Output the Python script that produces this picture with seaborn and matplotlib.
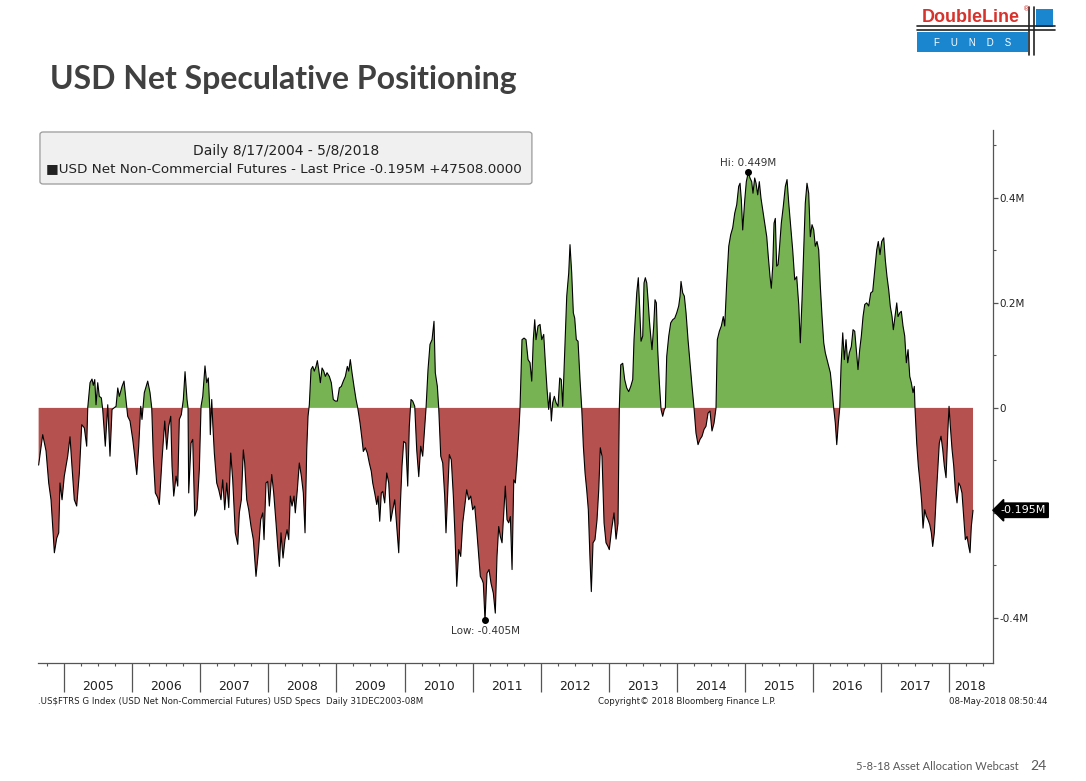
import numpy as np
import pandas as pd
import matplotlib
matplotlib.use("Agg")
import matplotlib.pyplot as plt
import seaborn as sns
from matplotlib.patches import Rectangle, FancyBboxPatch
from matplotlib.lines import Line2D

# weekly USD net non-commercial futures (decimal year, millions of contracts)
dates = [
    2004.627, 2004.687, 2004.736, 2004.775, 2004.809, 2004.858, 2004.893, 2004.922, 2004.941, 2004.971,
    2005.004, 2005.054, 2005.088, 2005.117, 2005.151, 2005.186, 2005.225, 2005.260, 2005.298, 2005.333,
    2005.348, 2005.382, 2005.411, 2005.430, 2005.451, 2005.470, 2005.495, 2005.518, 2005.548, 2005.568,
    2005.606, 2005.642, 2005.675, 2005.705, 2005.764, 2005.789, 2005.812, 2005.852, 2005.881, 2005.910,
    2005.935, 2005.969, 2006.009, 2006.038, 2006.068, 2006.097, 2006.126, 2006.145, 2006.179, 2006.229,
    2006.263, 2006.288, 2006.311, 2006.341, 2006.376, 2006.399, 2006.439, 2006.479, 2006.508, 2006.537,
    2006.567, 2006.586, 2006.611, 2006.645, 2006.670, 2006.693, 2006.722, 2006.752, 2006.777, 2006.806,
    2006.821, 2006.831, 2006.865, 2006.890, 2006.919, 2006.953, 2006.987, 2007.012, 2007.037, 2007.070,
    2007.095, 2007.119, 2007.140, 2007.148, 2007.169, 2007.184, 2007.207, 2007.242, 2007.272, 2007.305,
    2007.330, 2007.360, 2007.389, 2007.419, 2007.448, 2007.477, 2007.515, 2007.551, 2007.574, 2007.604,
    2007.633, 2007.653, 2007.683, 2007.712, 2007.746, 2007.780, 2007.819, 2007.853, 2007.888, 2007.918,
    2007.937, 2007.966, 2007.991, 2008.015, 2008.050, 2008.079, 2008.113, 2008.138, 2008.162, 2008.186,
    2008.216, 2008.245, 2008.275, 2008.300, 2008.323, 2008.348, 2008.377, 2008.396, 2008.426, 2008.455,
    2008.485, 2008.514, 2008.539, 2008.564, 2008.583, 2008.602, 2008.627, 2008.652, 2008.675, 2008.700,
    2008.720, 2008.740, 2008.764, 2008.789, 2008.814, 2008.837, 2008.862, 2008.896, 2008.925, 2008.954,
    2008.984, 2009.013, 2009.043, 2009.072, 2009.101, 2009.131, 2009.160, 2009.181, 2009.204, 2009.229,
    2009.258, 2009.288, 2009.313, 2009.347, 2009.376, 2009.395, 2009.424, 2009.454, 2009.483, 2009.512,
    2009.533, 2009.562, 2009.592, 2009.611, 2009.636, 2009.659, 2009.680, 2009.709, 2009.739, 2009.768,
    2009.797, 2009.827, 2009.856, 2009.885, 2009.915, 2009.938, 2009.963, 2009.988, 2010.018, 2010.047,
    2010.070, 2010.095, 2010.120, 2010.150, 2010.179, 2010.209, 2010.238, 2010.267, 2010.291, 2010.316,
    2010.345, 2010.374, 2010.404, 2010.433, 2010.452, 2010.482, 2010.502, 2010.532, 2010.561, 2010.590,
    2010.609, 2010.634, 2010.658, 2010.687, 2010.717, 2010.742, 2010.767, 2010.796, 2010.825, 2010.855,
    2010.884, 2010.913, 2010.943, 2010.972, 2011.001, 2011.031, 2011.060, 2011.090, 2011.113, 2011.138,
    2011.157, 2011.182, 2011.211, 2011.241, 2011.270, 2011.304, 2011.333, 2011.358, 2011.383, 2011.407,
    2011.432, 2011.457, 2011.480, 2011.505, 2011.530, 2011.554, 2011.579, 2011.604, 2011.627, 2011.652,
    2011.677, 2011.696, 2011.725, 2011.755, 2011.784, 2011.814, 2011.843, 2011.868, 2011.891, 2011.912,
    2011.931, 2011.960, 2011.990, 2012.015, 2012.044, 2012.068, 2012.093, 2012.117, 2012.137, 2012.156,
    2012.176, 2012.200, 2012.225, 2012.254, 2012.279, 2012.302, 2012.323, 2012.352, 2012.382, 2012.411,
    2012.430, 2012.455, 2012.479, 2012.499, 2012.523, 2012.548, 2012.577, 2012.602, 2012.626, 2012.651,
    2012.675, 2012.699, 2012.724, 2012.743, 2012.768, 2012.797, 2012.827, 2012.852, 2012.875, 2012.900,
    2012.930, 2012.959, 2012.988, 2013.007, 2013.040, 2013.076, 2013.106, 2013.135, 2013.154, 2013.175,
    2013.204, 2013.233, 2013.263, 2013.292, 2013.322, 2013.351, 2013.370, 2013.389, 2013.410, 2013.433,
    2013.454, 2013.473, 2013.498, 2013.517, 2013.536, 2013.557, 2013.576, 2013.595, 2013.615, 2013.634,
    2013.659, 2013.678, 2013.698, 2013.718, 2013.742, 2013.767, 2013.791, 2013.815, 2013.830, 2013.850,
    2013.880, 2013.909, 2013.938, 2013.968, 2013.997, 2014.026, 2014.046, 2014.060, 2014.085, 2014.109,
    2014.134, 2014.163, 2014.192, 2014.222, 2014.251, 2014.280, 2014.310, 2014.339, 2014.369, 2014.398,
    2014.427, 2014.457, 2014.486, 2014.515, 2014.545, 2014.574, 2014.593, 2014.623, 2014.652, 2014.681,
    2014.702, 2014.731, 2014.761, 2014.790, 2014.819, 2014.849, 2014.878, 2014.907, 2014.927, 2014.946,
    2014.966, 2014.996, 2015.019, 2015.048, 2015.073, 2015.098, 2015.117, 2015.142, 2015.162, 2015.186,
    2015.210, 2015.235, 2015.260, 2015.289, 2015.319, 2015.342, 2015.367, 2015.386, 2015.407, 2015.426,
    2015.445, 2015.465, 2015.485, 2015.504, 2015.533, 2015.562, 2015.592, 2015.617, 2015.642, 2015.671,
    2015.700, 2015.730, 2015.759, 2015.789, 2015.812, 2015.837, 2015.862, 2015.885, 2015.910, 2015.935,
    2015.959, 2015.984, 2016.009, 2016.032, 2016.057, 2016.082, 2016.106, 2016.131, 2016.156, 2016.179,
    2016.204, 2016.229, 2016.253, 2016.278, 2016.302, 2016.326, 2016.347, 2016.370, 2016.391, 2016.410,
    2016.435, 2016.458, 2016.483, 2016.508, 2016.532, 2016.561, 2016.586, 2016.611, 2016.634, 2016.659,
    2016.684, 2016.708, 2016.733, 2016.758, 2016.787, 2016.816, 2016.846, 2016.875, 2016.905, 2016.934,
    2016.957, 2016.982, 2017.007, 2017.037, 2017.060, 2017.085, 2017.110, 2017.134, 2017.159, 2017.178,
    2017.203, 2017.228, 2017.247, 2017.272, 2017.295, 2017.320, 2017.345, 2017.369, 2017.394, 2017.419,
    2017.442, 2017.467, 2017.486, 2017.496, 2017.521, 2017.545, 2017.570, 2017.595, 2017.614, 2017.639,
    2017.662, 2017.687, 2017.712, 2017.736, 2017.756, 2017.780, 2017.805, 2017.830, 2017.853, 2017.878,
    2017.903, 2017.927, 2017.952, 2017.977, 2017.996, 2018.015, 2018.040, 2018.065, 2018.088, 2018.113,
    2018.138, 2018.162, 2018.186, 2018.211, 2018.235, 2018.260, 2018.285, 2018.304, 2018.323, 2018.348,
]
net_spec = [
    -0.109, -0.051, -0.082, -0.143, -0.175, -0.276, -0.248, -0.238, -0.143, -0.175,
    -0.130, -0.092, -0.055, -0.112, -0.175, -0.187, -0.124, -0.032, -0.038, -0.073,
    0.000, 0.048, 0.055, 0.043, 0.054, 0.006, 0.048, 0.022, 0.019, -0.003,
    -0.073, 0.006, -0.092, -0.003, 0.003, 0.038, 0.022, 0.041, 0.051, 0.016,
    -0.016, -0.025, -0.060, -0.092, -0.127, -0.073, 0.003, -0.022, 0.029, 0.051,
    0.029, 0.000, -0.092, -0.162, -0.171, -0.184, -0.098, -0.025, -0.079, -0.035,
    -0.016, -0.111, -0.168, -0.130, -0.149, -0.022, -0.013, 0.016, 0.069, 0.016,
    0.000, -0.162, -0.067, -0.060, -0.206, -0.194, -0.117, 0.003, 0.022, 0.080,
    0.048, 0.057, 0.000, -0.051, 0.016, -0.029, -0.086, -0.143, -0.156, -0.175,
    -0.137, -0.194, -0.143, -0.190, -0.086, -0.137, -0.238, -0.260, -0.200, -0.175,
    -0.080, -0.105, -0.175, -0.194, -0.226, -0.251, -0.321, -0.276, -0.213, -0.200,
    -0.251, -0.143, -0.140, -0.187, -0.127, -0.162, -0.219, -0.264, -0.302, -0.238,
    -0.286, -0.251, -0.232, -0.251, -0.168, -0.187, -0.168, -0.200, -0.156, -0.105,
    -0.130, -0.162, -0.238, -0.080, -0.016, 0.006, 0.073, 0.079, 0.070, 0.079,
    0.090, 0.073, 0.048, 0.076, 0.070, 0.060, 0.067, 0.060, 0.048, 0.016,
    0.013, 0.013, 0.038, 0.041, 0.051, 0.060, 0.079, 0.070, 0.092, 0.067,
    0.041, 0.016, 0.000, -0.029, -0.060, -0.083, -0.076, -0.086, -0.105, -0.121,
    -0.143, -0.162, -0.184, -0.168, -0.216, -0.162, -0.159, -0.181, -0.124, -0.143,
    -0.216, -0.194, -0.175, -0.226, -0.276, -0.187, -0.111, -0.064, -0.067, -0.149,
    -0.035, 0.016, 0.013, 0.003, -0.080, -0.131, -0.073, -0.092, -0.048, 0.000,
    0.073, 0.121, 0.130, 0.165, 0.067, 0.041, 0.000, -0.092, -0.105, -0.168,
    -0.238, -0.162, -0.089, -0.099, -0.168, -0.245, -0.340, -0.270, -0.283, -0.219,
    -0.187, -0.156, -0.175, -0.168, -0.194, -0.187, -0.232, -0.283, -0.321, -0.327,
    -0.334, -0.405, -0.315, -0.308, -0.334, -0.353, -0.391, -0.283, -0.226, -0.245,
    -0.257, -0.200, -0.149, -0.213, -0.219, -0.207, -0.308, -0.137, -0.143, -0.099,
    -0.048, 0.000, 0.130, 0.133, 0.130, 0.092, 0.086, 0.051, 0.130, 0.168,
    0.130, 0.156, 0.159, 0.130, 0.140, 0.086, 0.035, -0.003, 0.029, -0.025,
    0.010, 0.022, 0.010, 0.003, 0.057, 0.054, 0.003, 0.105, 0.213, 0.257,
    0.311, 0.257, 0.181, 0.171, 0.130, 0.127, 0.054, 0.000, -0.073, -0.124,
    -0.156, -0.194, -0.289, -0.350, -0.257, -0.251, -0.213, -0.156, -0.076, -0.092,
    -0.219, -0.257, -0.264, -0.270, -0.232, -0.200, -0.250, -0.220, 0.000, 0.082,
    0.085, 0.054, 0.038, 0.031, 0.041, 0.054, 0.130, 0.174, 0.219, 0.248,
    0.187, 0.127, 0.137, 0.238, 0.248, 0.238, 0.206, 0.168, 0.137, 0.111,
    0.156, 0.206, 0.200, 0.111, 0.048, -0.003, -0.016, -0.003, 0.000, 0.098,
    0.137, 0.162, 0.168, 0.171, 0.181, 0.194, 0.213, 0.241, 0.219, 0.213,
    0.181, 0.130, 0.086, 0.041, 0.000, -0.048, -0.070, -0.060, -0.054, -0.041,
    -0.035, -0.010, -0.006, -0.044, -0.029, 0.000, 0.130, 0.146, 0.156, 0.174,
    0.156, 0.238, 0.308, 0.330, 0.343, 0.371, 0.387, 0.422, 0.428, 0.396,
    0.339, 0.396, 0.431, 0.449, 0.438, 0.431, 0.409, 0.438, 0.428, 0.406,
    0.431, 0.399, 0.377, 0.352, 0.326, 0.288, 0.250, 0.228, 0.270, 0.352,
    0.361, 0.270, 0.273, 0.301, 0.352, 0.384, 0.422, 0.435, 0.390, 0.346,
    0.301, 0.244, 0.250, 0.196, 0.124, 0.206, 0.301, 0.390, 0.428, 0.409,
    0.326, 0.349, 0.339, 0.308, 0.317, 0.301, 0.231, 0.174, 0.124, 0.105,
    0.092, 0.079, 0.067, 0.035, 0.000, -0.029, -0.070, -0.029, 0.000, 0.079,
    0.143, 0.092, 0.130, 0.086, 0.105, 0.117, 0.149, 0.146, 0.111, 0.073,
    0.111, 0.137, 0.174, 0.197, 0.200, 0.194, 0.219, 0.222, 0.263, 0.301,
    0.317, 0.292, 0.317, 0.324, 0.282, 0.250, 0.225, 0.193, 0.174, 0.149,
    0.174, 0.200, 0.174, 0.181, 0.184, 0.156, 0.137, 0.086, 0.111, 0.060,
    0.048, 0.029, 0.041, 0.000, -0.067, -0.111, -0.143, -0.181, -0.229, -0.194,
    -0.206, -0.213, -0.222, -0.238, -0.264, -0.238, -0.175, -0.118, -0.067, -0.054,
    -0.079, -0.111, -0.133, -0.048, 0.003, -0.035, -0.079, -0.111, -0.156, -0.181,
    -0.143, -0.149, -0.162, -0.206, -0.251, -0.245, -0.264, -0.276, -0.226, -0.195,
]

years = list(range(2005, 2019))
year_labels = [str(y) for y in years]
y_major = [-0.4, -0.2, 0.0, 0.2, 0.4]
y_major_labels = ["-0.4M", "", "0", "0.2M", "0.4M"]
y_minor = [-0.3, -0.1, 0.1, 0.3, 0.5]
last_price = -0.195

GREEN = "#78b353"
RED = "#b5524f"
AXIS = "#555555"
TEXT = "#222222"

sns.set_style("white")
plt.rcParams["font.family"] = ["DejaVu Sans"]

df = pd.DataFrame({"date": dates, "pos": net_spec})
x = df["date"].to_numpy()
y = df["pos"].to_numpy()

fig = plt.figure(figsize=(10.86, 7.81), dpi=100)
ax = fig.add_axes([0.035, 0.1511, 0.8794, 0.6825])

ax.fill_between(x, y, 0, where=y >= 0, interpolate=True, color=GREEN, lw=0)
ax.fill_between(x, y, 0, where=y <= 0, interpolate=True, color=RED, lw=0)
sns.lineplot(data=df, x="date", y="pos", color="black", lw=0.8, ax=ax)

ax.set_xlim(2004.618, 2018.642)
ax.set_ylim(-0.486, 0.5295)
ax.set_xlabel("")
ax.set_ylabel("")

for s in ["left", "top"]:
    ax.spines[s].set_visible(False)
for s in ["right", "bottom"]:
    ax.spines[s].set_color(AXIS)
    ax.spines[s].set_linewidth(0.9)

# x axis: long year separators + quarterly ticks, labels centred in each year
ax.set_xticks(years)
ax.set_xticklabels([])
ax.set_xticks([q for q in np.arange(2004.75, 2018.6, 0.25) if q % 1 != 0], minor=True)
ax.tick_params(axis="x", which="both", bottom=True, top=False, direction="out")
ax.tick_params(axis="x", which="major", length=21, width=0.9, color=AXIS)
ax.tick_params(axis="x", which="minor", length=2.5, width=0.8, color=AXIS)
for yr, lab in zip(years, year_labels):
    cx = yr + 0.5 if yr < 2018 else 2018.31
    ax.text(cx, -0.045, lab, transform=ax.get_xaxis_transform(), ha="center",
            va="center", fontsize=9, color=TEXT)

# right y axis
ax.yaxis.tick_right()
ax.set_yticks(y_major)
ax.set_yticklabels(y_major_labels)
ax.set_yticks(y_minor, minor=True)
ax.tick_params(axis="y", which="both", right=True, left=False, direction="out")
ax.tick_params(axis="y", which="major", length=3.5, width=0.9, color=AXIS,
               labelsize=7.5, labelcolor=TEXT, pad=1)
ax.tick_params(axis="y", which="minor", length=2.5, width=0.8, color=AXIS)

# high / low markers
i_hi, i_lo = int(np.argmax(y)), int(np.argmin(y))
ax.plot(x[i_hi], y[i_hi], "o", color="black", ms=4)
ax.plot(x[i_lo], y[i_lo], "o", color="black", ms=4)
ax.annotate(f"Hi: {y[i_hi]:.3f}M", (x[i_hi], y[i_hi]), xytext=(0, 3),
            textcoords="offset points", ha="center", va="bottom", fontsize=7.5, color="#333")
ax.annotate(f"Low: {y[i_lo]:.3f}M", (x[i_lo], y[i_lo]), xytext=(0, -4),
            textcoords="offset points", ha="center", va="top", fontsize=7.5, color="#333")

# last price tag
ax.text(1.008, last_price, f"{last_price:.3f}M", transform=ax.get_yaxis_transform(),
        ha="left", va="center", fontsize=8, color="white",
        bbox=dict(boxstyle="larrow,pad=0.2", fc="black", ec="black"))

# legend box
fig.patches.append(FancyBboxPatch((0.0368, 0.7644), 0.453, 0.0666,
                                  boxstyle="round,pad=0,rounding_size=0.003",
                                  transform=fig.transFigure, fc="#f0f0f0", ec="#9a9a9a", lw=0.9))
fig.text(0.2634, 0.8067, "Daily 8/17/2004 - 5/8/2018", ha="center", va="center",
         fontsize=10, color=TEXT)
fig.text(0.0425, 0.7836, "\u25a0USD Net Non-Commercial Futures - Last Price -0.195M +47508.0000",
         ha="left", va="center", fontsize=9.7, color=TEXT)

# title
fig.text(0.046, 0.8976, "USD Net Speculative Positioning", fontsize=23, fontweight="bold",
         color="#404040", family="Lato", va="center", ha="left")

# logo
fig.patches.append(Rectangle((0.8444, 0.9334), 0.1022, 0.0256, transform=fig.transFigure,
                             fc="#1a86cf", ec="none"))
fig.patches.append(Rectangle((0.9540, 0.9654), 0.0157, 0.0230, transform=fig.transFigure,
                             fc="#1a86cf", ec="none"))
for yy in [1 - 25.5 / 781, 1 - 29.5 / 781]:
    fig.add_artist(Line2D([0.8444, 0.9715], [yy, yy], transform=fig.transFigure,
                          color="#222", lw=1.2))
for xx in [1029 / 1086, 1034 / 1086]:
    fig.add_artist(Line2D([xx, xx], [1 - 55 / 781, 1 - 7 / 781], transform=fig.transFigure,
                          color="#222", lw=1.2))
fig.text(0.8935, 1 - 17 / 781, "DoubleLine", fontsize=13, fontweight="bold",
         color="#d8322c", family="Liberation Sans", ha="center", va="center")
fig.text(0.9455, 1 - 9 / 781, "\u00ae", fontsize=5, color="#d8322c", ha="center", va="center")
fig.text(0.8955, 1 - 43 / 781, "F    U    N    D    S", fontsize=7, color="white",
         family="Liberation Sans", ha="center", va="center")

# source lines
fig.text(0.035, 1 - 701 / 781,
         ".US$FTRS G Index (USD Net Non-Commercial Futures) USD Specs  Daily 31DEC2003-08M",
         fontsize=6.2, color=TEXT, va="center", ha="left")
fig.text(0.5506, 1 - 701 / 781, "Copyright\u00a9 2018 Bloomberg Finance L.P.", fontsize=6.2,
         color=TEXT, va="center", ha="left")
fig.text(0.965, 1 - 701 / 781, "08-May-2018 08:50:44", fontsize=6.2, color=TEXT,
         va="center", ha="right")

# slide footer
fig.text(0.788, 1 - 767 / 781, "5-8-18 Asset Allocation Webcast", fontsize=8,
         color="#595959", family="Lato", va="center", ha="left")
fig.text(0.9484, 1 - 766 / 781, "24", fontsize=10, color="#595959", family="Lato",
         va="center", ha="left")

fig.savefig("out.png", dpi=100)
